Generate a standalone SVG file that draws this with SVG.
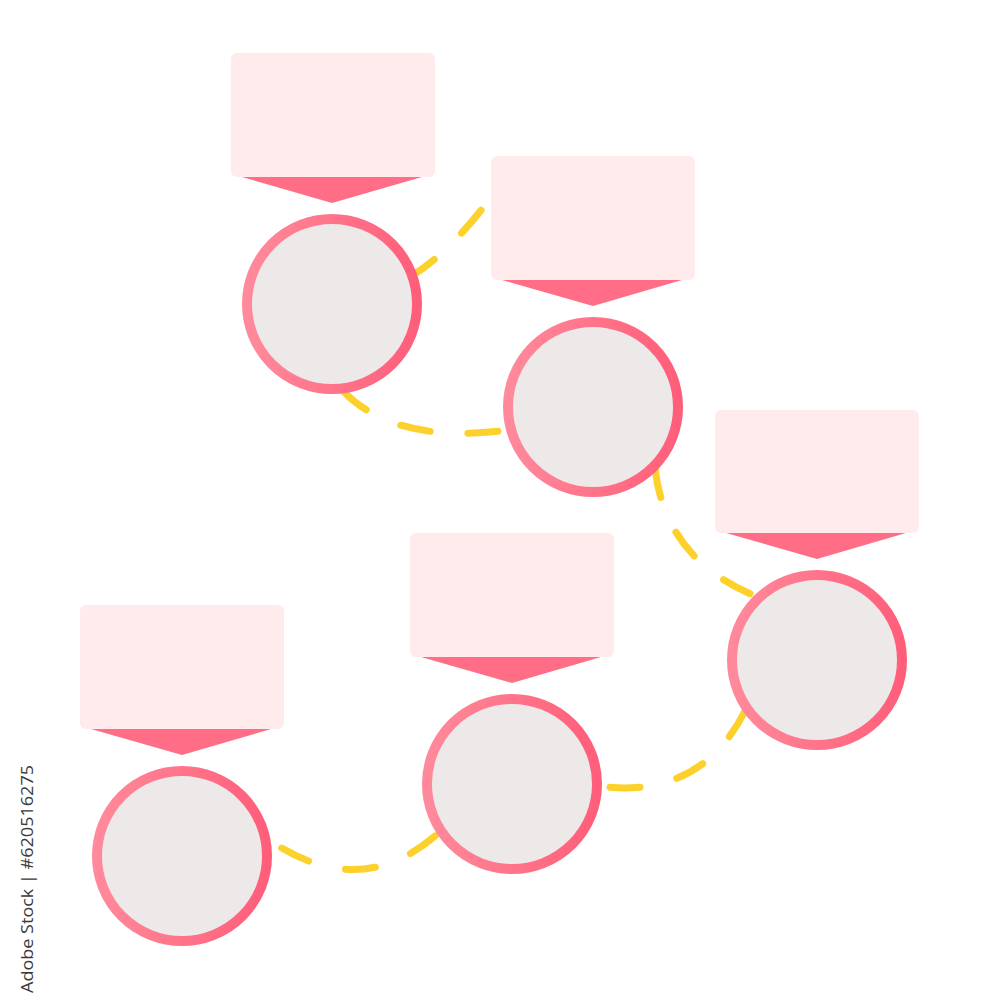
<svg xmlns="http://www.w3.org/2000/svg" width="1000" height="1000" viewBox="0 0 1000 1000">
<defs>
  <linearGradient id="ring" x1="0" y1="0" x2="1" y2="0">
    <stop offset="0" stop-color="#ff8a9b"/>
    <stop offset="1" stop-color="#ff5e7a"/>
  </linearGradient>
  <style>
    .conn{fill:none;stroke:#fdd12b;stroke-width:7;stroke-linecap:round;stroke-dasharray:30 38}
    .box{fill:#ffebec}
    .ptr{fill:#ff6e86}
    .circ{fill:#eee9e9;stroke:url(#ring);stroke-width:10}
    .wm{font-family:"Open Sans","DejaVu Sans",sans-serif;font-size:17px;fill:#3a3a3a}
  </style>
</defs>
<rect width="1000" height="1000" fill="#ffffff"/>
<g id="connectors">
  <path class="conn" d="M 410,277 Q 455,250 505,178"/>
  <path class="conn" d="M 343,391 Q 395,445 508,430"/>
  <path class="conn" d="M 655,468 Q 665,560 758,597"/>
  <path class="conn" d="M 745,711 Q 700,800 598,786"/>
  <path class="conn" d="M 435,836 Q 360,900 272,842"/>
</g>
<g id="node1">
  <rect class="box" x="231" y="53" width="204" height="124" rx="6"/>
  <polygon class="ptr" points="242,177 422,177 332,203"/>
  <circle class="circ" cx="332" cy="304" r="85"/>
</g>
<g id="node2">
  <rect class="box" x="491" y="156" width="204" height="124" rx="6"/>
  <polygon class="ptr" points="502,280 682,280 593,306"/>
  <circle class="circ" cx="593" cy="407" r="85"/>
</g>
<g id="node3">
  <rect class="box" x="715" y="410" width="204" height="123" rx="6"/>
  <polygon class="ptr" points="726,533 906,533 817,559"/>
  <circle class="circ" cx="817" cy="660" r="85"/>
</g>
<g id="node4">
  <rect class="box" x="410" y="533" width="204" height="124" rx="6"/>
  <polygon class="ptr" points="421,657 601,657 512,683"/>
  <circle class="circ" cx="512" cy="784" r="85"/>
</g>
<g id="node5">
  <rect class="box" x="80" y="605" width="204" height="124" rx="6"/>
  <polygon class="ptr" points="91,729 271,729 182,755"/>
  <circle class="circ" cx="182" cy="856" r="85"/>
</g>
<text class="wm" transform="translate(33,993) rotate(-90)" textLength="228" lengthAdjust="spacingAndGlyphs">Adobe Stock | #620516275</text>
</svg>
